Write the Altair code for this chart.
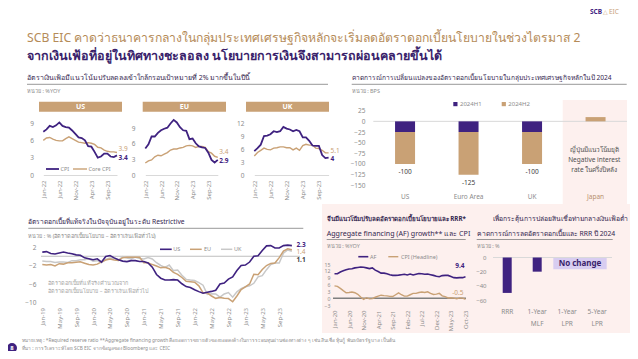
import json
import altair as alt
import pandas as pd

FONT = "Noto Sans"
W, H = 622, 343
M = 8  # page margin


def X(v):
    return v - M


def Y(v):
    return v - M


PURPLE = "#3F2280"
TAN = "#C9A175"
UKGRAY = "#C8C8C8"
GOLD = "#B58B58"
DARK = "#33264F"
GRAY = "#8C8C8C"
LINE = "#7F7F7F"
PINK = "#FDF0EE"
NOCHG = "#D8CDF1"

# ---------------- data ----------------
infl_tick_pos = [0, 5, 10, 15, 20]
infl_tick_labels = ["Jan-22", "Jun-22", "Nov-22", "Apr-23", "Sep-23"]
us_cpi = [7.5, 7.9, 8.5, 8.3, 8.6, 9.1, 8.5, 8.3, 8.2, 7.7, 7.1, 6.5,
          6.4, 6.0, 5.0, 4.9, 4.0, 3.0, 3.2, 3.7, 3.7, 3.2, 3.1, 3.4]
us_core = [6.0, 6.4, 6.5, 6.2, 6.0, 5.9, 5.9, 6.3, 6.6, 6.3, 6.0, 5.7,
           5.6, 5.5, 5.6, 5.5, 5.3, 4.8, 4.7, 4.3, 4.1, 4.0, 4.0, 3.9]
eu_cpi = [5.1, 5.9, 7.4, 7.4, 8.1, 8.6, 8.9, 9.1, 9.9, 10.6, 10.1, 9.2,
          8.6, 8.5, 6.9, 7.0, 6.1, 5.5, 5.3, 5.2, 4.3, 2.9, 2.4, 2.9]
eu_core = [2.3, 2.7, 2.9, 3.5, 3.8, 3.7, 4.0, 4.3, 4.8, 5.0, 5.0, 5.2,
           5.3, 5.6, 5.7, 5.6, 5.3, 5.5, 5.5, 5.3, 4.5, 4.2, 3.6, 3.4]
uk_cpi = [5.5, 6.2, 7.0, 9.0, 9.1, 9.4, 10.1, 9.9, 10.1, 11.1, 10.7, 10.5,
          10.1, 10.4, 10.1, 8.7, 8.7, 7.9, 6.8, 6.7, 6.7, 4.6, 3.9, 4.0]
uk_core = [4.4, 5.2, 5.7, 6.2, 5.9, 5.8, 6.2, 6.3, 6.5, 6.5, 6.3, 6.3,
           5.8, 6.2, 5.7, 6.8, 7.1, 6.9, 6.9, 6.2, 6.1, 5.7, 5.1, 5.1]

bar_countries = ["US", "Euro Area", "UK", "Japan"]
bar_h1 = [-25, -25, -25, 0]
bar_h2 = [-75, -100, -75, 10]
bar_periods = ["2024H1", "2024H2"]

real_tick_pos = list(range(0, 60, 4))
real_tick_labels = ["Jan-19", "May-19", "Sep-19", "Jan-20", "May-20", "Sep-20",
                    "Jan-21", "May-21", "Sep-21", "Jan-22", "May-22", "Sep-22",
                    "Jan-23", "May-23", "Sep-23"]
real_us = [0.9, 1.0, 0.6, 0.5, 0.7, 0.9, 0.7, 0.55, 0.3, 0.2, -0.35, -0.55,
           -0.75, -0.55, -1.25, -0.05, 0.15, -0.35, -0.75, -1.05, -1.15, -0.95, -0.95, -1.15,
           -1.15, -1.45, -2.35, -3.95, -4.75, -5.15, -5.15, -5.05, -5.15, -5.95, -6.55, -6.75,
           -7.25, -7.65, -8.0, -7.8, -7.6, -7.35, -6.0, -5.8, -4.95, -4.45, -3.1, -2.0,
           -1.9, -1.25, 0.0, 0.1, 1.25, 2.25, 2.3, 1.8, 1.8, 2.3, 2.4, 2.3]
real_eu = [-1.8, -1.9, -1.8, -2.1, -1.6, -1.7, -1.4, -1.4, -1.3, -1.2, -1.5, -1.8,
           -1.9, -1.7, -1.2, -0.8, -0.6, -0.8, -0.9, -0.3, -0.2, -0.2, -0.2, -0.2,
           -1.4, -1.4, -1.8, -2.1, -2.5, -2.4, -2.7, -3.5, -3.9, -4.6, -5.4, -5.5,
           -5.6, -6.4, -7.9, -7.9, -8.6, -9.1, -8.9, -9.1, -9.15, -9.85, -8.6, -7.2,
           -6.6, -6.0, -3.9, -4.0, -2.85, -2.0, -1.55, -1.45, -0.3, 1.1, 1.6, 1.4]
real_uk = [-1.05, -1.15, -1.15, -1.35, -1.25, -1.25, -1.35, -0.95, -0.95, -0.75, -0.75, -0.55,
           -1.05, -0.95, -1.4, -0.7, -0.4, -0.5, -0.9, -0.1, -0.4, -0.6, -0.2, -0.5,
           -0.6, -0.3, -0.6, -1.4, -2.0, -2.4, -1.9, -3.1, -3.0, -4.1, -5.0, -5.15,
           -5.25, -5.7, -6.25, -8.25, -8.1, -8.15, -8.85, -8.15, -7.85, -8.85, -7.7, -7.0,
           -6.6, -6.4, -5.85, -4.45, -4.2, -2.9, -1.8, -1.45, -1.45, 0.65, 1.35, 1.1]

af_tick_pos = list(range(0, 46, 5))
af_tick_labels = ["Jan-20", "Jun-20", "Nov-20", "Apr-21", "Sep-21", "Feb-22",
                  "Jul-22", "Dec-22", "May-23", "Oct-23"]
af_growth = [10.7, 10.7, 11.5, 12.0, 12.5, 12.8, 12.9, 13.3, 13.5, 13.7, 13.6, 13.3,
             13.0, 13.3, 12.3, 11.7, 11.0, 11.0, 10.7, 10.3, 10.0, 10.0, 10.1, 10.3,
             10.5, 10.2, 10.6, 10.2, 10.5, 10.8, 10.7, 10.5, 10.6, 10.3, 10.0, 9.6,
             9.4, 9.9, 10.0, 10.0, 9.5, 9.0, 8.9, 9.0, 9.0, 9.4]
cn_cpi = [5.4, 5.2, 4.3, 3.3, 2.4, 2.5, 2.7, 2.4, 1.7, 0.5, -0.5, 0.2,
          -0.3, -0.2, 0.4, 0.9, 1.3, 1.1, 1.0, 0.8, 0.7, 1.5, 2.3, 1.5,
          0.9, 0.9, 1.5, 2.1, 2.1, 2.5, 2.7, 2.5, 2.8, 2.1, 1.6, 1.8,
          2.1, 1.0, 0.7, 0.1, 0.2, 0.0, -0.3, 0.1, 0.0, -0.5]

cn_items = ["RRR", "1-Year MLF", "1-Year LPR", "5-Year LPR"]
cn_cut = [-50, -20, 0, 0]

# ---------------- helpers ----------------


def fmt(v):
    return f"{v:g}"


def lab_expr(pos, labels):
    return f"{json.dumps(labels)}[indexof({json.dumps(pos)}, datum.value)]"


def y_axis(at_x, values, size=6.5, pad=2):
    return alt.Axis(orient="left", offset=-X(at_x), values=values, domain=False,
                    ticks=False, tickSize=0, grid=False, title=None, labelFont=FONT,
                    labelFontSize=size, labelColor=GRAY, labelPadding=pad, zindex=1,
                    labelOverlap=False)


def x_axis_idx(at_y, pos, labels, size=6, pad=4, domain_color=None):
    kw = dict(orient="bottom", offset=Y(at_y) - H, values=pos,
              labelExpr=lab_expr(pos, labels), labelAngle=-90, ticks=False, tickSize=0,
              grid=False, title=None, labelFont=FONT, labelFontSize=size,
              labelColor=GRAY, labelPadding=pad, labelOverlap=False, zindex=1)
    if domain_color:
        kw.update(domain=True, domainColor=domain_color, domainWidth=1)
    else:
        kw.update(domain=False)
    return alt.Axis(**kw)


one = pd.DataFrame({"a": [0]})


def txt(s, x, y, size=7.0, color=DARK, weight="normal", align="left", baseline="middle"):
    return alt.Chart(pd.DataFrame({"t": [s]})).mark_text(
        align=align, baseline=baseline, fontSize=size, color=color,
        fontWeight=weight, font=FONT).encode(
        x=alt.value(X(x)), y=alt.value(Y(y)), text="t:N")


def hline(x1, x2, y, color=LINE, width=0.8):
    return alt.Chart(one).mark_rule(color=color, strokeWidth=width).encode(
        x=alt.value(X(x1)), x2=alt.value(X(x2)), y=alt.value(Y(y)))


def box(x1, y1, x2, y2, color):
    return alt.Chart(one).mark_rect(color=color).encode(
        x=alt.value(X(x1)), x2=alt.value(X(x2)), y=alt.value(Y(y1)), y2=alt.value(Y(y2)))


def series_line(df, xs, ys, xa, ya, color, width):
    return alt.Chart(df).mark_line(color=color, strokeWidth=width).encode(
        x=alt.X("i:Q", scale=xs, axis=xa), y=alt.Y("v:Q", scale=ys, axis=ya))


def end_label(vals, xs, ys, xa, ya, color, dx, dy, weight="normal", align="left", size=6.5):
    n = len(vals)
    d = pd.DataFrame({"i": [n - 1], "v": [vals[-1]], "t": [fmt(vals[-1])]})
    return alt.Chart(d).mark_text(color=color, dx=dx, dy=dy, align=align, fontSize=size,
                                  fontWeight=weight, font=FONT).encode(
        x=alt.X("i:Q", scale=xs, axis=xa), y=alt.Y("v:Q", scale=ys, axis=ya), text="t:N")


def sdf(vals):
    return pd.DataFrame({"i": list(range(len(vals))), "v": vals})


# ---------------- inflation mini panels ----------------
def infl_panel(cpi, core, x0, x1, ydom, y_top, yticks, yax_x, cpi_dy, core_dy, dx):
    n = len(cpi)
    xs = alt.Scale(domain=[0, n - 1], range=[X(x0), X(x1)], nice=False, zero=False)
    ys = alt.Scale(domain=ydom, range=[Y(175), Y(y_top)], nice=False, zero=False)
    xa = x_axis_idx(175, infl_tick_pos, infl_tick_labels, pad=5, domain_color="#D9D9D9")
    ya = y_axis(yax_x, yticks)
    return alt.layer(
        series_line(sdf(core), xs, ys, xa, ya, TAN, 1.4),
        series_line(sdf(cpi), xs, ys, xa, ya, PURPLE, 1.8),
        end_label(core, xs, ys, xa, ya, TAN, dx, core_dy),
        end_label(cpi, xs, ys, xa, ya, PURPLE, dx, cpi_dy, weight="bold"),
    )


us_panel = infl_panel(us_cpi, us_core, 43.3, 117.0, [0, 9], 123, [0, 3, 6, 9], 35.5, 3, -3, 1.5)
eu_panel = infl_panel(eu_cpi, eu_core, 145.3, 217.8, [0, 12], 112.6, [0, 3, 6, 9], 137, 1, -5, 1.5)
uk_panel = infl_panel(uk_cpi, uk_core, 254.3, 328.6, [0, 12], 123, [0, 3, 6, 9, 12], 246, 1, -2, 2)

# ---------------- policy rate change bars ----------------
bar_df = pd.DataFrame({
    "c": bar_countries * 2,
    "p": [bar_periods[0]] * 4 + [bar_periods[1]] * 4,
    "v": bar_h1 + bar_h2,
})
tot = pd.DataFrame({"c": bar_countries,
                    "v": [a + b for a, b in zip(bar_h1, bar_h2)]})
tot = tot[tot["v"] < 0].copy()
tot["t"] = tot["v"].map(fmt)
bxs = alt.Scale(domain=bar_countries, range=[X(373.3), X(627.3)], paddingInner=0.685,
                paddingOuter=0.3425)
bys = alt.Scale(domain=[-150, 25], range=[Y(185.3), Y(110.7)], nice=False, zero=False)
bxa = alt.Axis(orient="bottom", offset=Y(185.3) - H, labelAngle=0, domain=False, ticks=False,
               tickSize=0, grid=False, title=None, labelFont=FONT, labelFontSize=6.5,
               labelPadding=8, zindex=1,
               labelColor={"condition": {"test": "datum.value === 'Japan'", "value": "#B8906E"},
                           "value": GRAY})
bya = y_axis(367, list(range(-150, 26, 25)))
bar_zero = alt.Chart(pd.DataFrame({"v": [0]})).mark_rule(color="#D9D9D9", strokeWidth=1).encode(
    y=alt.Y("v:Q", scale=bys, axis=bya), x=alt.value(X(373.3)), x2=alt.value(X(627)))
bars = alt.Chart(bar_df).mark_bar().encode(
    x=alt.X("c:N", scale=bxs, axis=bxa, sort=bar_countries),
    y=alt.Y("v:Q", scale=bys, axis=bya, stack="zero"),
    color=alt.Color("p:N", scale=alt.Scale(domain=bar_periods, range=[PURPLE, TAN]), legend=None),
    order=alt.Order("p:N", sort="ascending"),
)
bar_labels = alt.Chart(tot).mark_text(dy=8, fontSize=6.5, color="#404040", font=FONT).encode(
    x=alt.X("c:N", scale=bxs, axis=bxa, sort=bar_countries),
    y=alt.Y("v:Q", scale=bys, axis=bya), text="t:N")
bar_panel = alt.layer(bar_zero, bars, bar_labels)

# ---------------- real policy rate ----------------
rxs = alt.Scale(domain=[0, len(real_us) - 1], range=[X(42.3), X(291.9)], nice=False, zero=False)
rys = alt.Scale(domain=[-10, 2], range=[Y(302.5), Y(247)], nice=False, zero=False)
rxa = x_axis_idx(302.5, real_tick_pos, real_tick_labels, pad=5)
rya = y_axis(38, [2, -2, -6, -10])
real_zero = alt.Chart(pd.DataFrame({"v": [0]})).mark_rule(color="#BFBFBF", strokeWidth=1).encode(
    y=alt.Y("v:Q", scale=rys, axis=rya), x=alt.value(X(41)), x2=alt.value(X(300)))
real_panel = alt.layer(
    real_zero,
    series_line(sdf(real_uk), rxs, rys, rxa, rya, UKGRAY, 1.5),
    series_line(sdf(real_eu), rxs, rys, rxa, rya, TAN, 1.5),
    series_line(sdf(real_us), rxs, rys, rxa, rya, PURPLE, 1.6),
    end_label(real_us, rxs, rys, rxa, rya, PURPLE, 4.5, -1, weight="bold"),
    end_label(real_eu, rxs, rys, rxa, rya, TAN, 4.5, 2.5),
    end_label(real_uk, rxs, rys, rxa, rya, "#404040", 4.5, 9, weight="bold"),
)

# ---------------- China AF & CPI ----------------
axs = alt.Scale(domain=[0, len(af_growth) - 1], range=[X(334.5), X(465.5)], nice=False, zero=False)
ays = alt.Scale(domain=[-3, 15], range=[Y(305), Y(264)], nice=False, zero=False)
axa = x_axis_idx(305, af_tick_pos, af_tick_labels, pad=5)
aya = y_axis(332, [15, 12, 9, 6, 3, 0, -3], size=5.2)
af_zero = alt.Chart(pd.DataFrame({"v": [0]})).mark_rule(color="#7F7F7F", strokeWidth=1.5).encode(
    y=alt.Y("v:Q", scale=ays, axis=aya), x=alt.value(X(333)), x2=alt.value(X(466)))
af_panel = alt.layer(
    af_zero,
    series_line(sdf(cn_cpi), axs, ays, axa, aya, TAN, 1.4),
    series_line(sdf(af_growth), axs, ays, axa, aya, PURPLE, 1.6),
    end_label(af_growth, axs, ays, axa, aya, PURPLE, -1, -11, align="right", weight="bold"),
    end_label(cn_cpi, axs, ays, axa, aya, TAN, -2, -6, align="right"),
)

# ---------------- China rate cuts ----------------
cdf = pd.DataFrame({"c": cn_items, "v": cn_cut})
cxs = alt.Scale(domain=cn_items, range=[X(492.2), X(612.2)], paddingInner=0.7, paddingOuter=0.35)
cys = alt.Scale(domain=[-60, 0], range=[Y(300), Y(257.5)], nice=False, zero=False)
cxa = alt.Axis(orient="bottom", offset=Y(300) - H, labelAngle=0, domain=False, ticks=False,
               tickSize=0, grid=False, title=None, labelFont=FONT, labelFontSize=6.5,
               labelColor=GRAY, labelPadding=8, labelLineHeight=12.5, zindex=1,
               labelExpr="split(datum.label, ' ')")
cya = y_axis(488, [0, -20, -40, -60], size=6)
c_zero = alt.Chart(pd.DataFrame({"v": [0]})).mark_rule(color="#D9D9D9", strokeWidth=1).encode(
    y=alt.Y("v:Q", scale=cys, axis=cya), x=alt.value(X(493)), x2=alt.value(X(612)))
c_bars = alt.Chart(cdf).mark_bar(color=PURPLE).encode(
    x=alt.X("c:N", scale=cxs, axis=cxa, sort=cn_items),
    y=alt.Y("v:Q", scale=cys, axis=cya))
cut_panel = alt.layer(c_zero, c_bars)

# ---------------- decorations ----------------
deco = [
    box(562.7, 100, 627, 204, PINK),
    box(322, 204, 631, 333, PINK),
    # header
    txt("SCB", 602, 12, 6.5, PURPLE, "bold", align="right"),
    txt("\u25b3", 605.5, 12, 5.5, TAN, align="center"),
    txt("EIC", 609, 12, 6.5, TAN, align="left"),
    txt("SCB EIC คาดว่าธนาคารกลางในกลุ่มประเทศเศรษฐกิจหลักจะเริ่มลดอัตราดอกเบี้ยนโยบายในช่วงไตรมาส 2",
        27, 38, 12.2, GOLD, "normal"),
    txt("จากเงินเฟ้อที่อยู่ในทิศทางชะลอลง นโยบายการเงินจึงสามารถผ่อนคลายขึ้นได้",
        27, 55.5, 12.5, "#3A1F6B", "bold"),
    # section 1 left
    txt("อัตราเงินเฟ้อมีแนวโน้มปรับลดลงเข้าใกล้กรอบเป้าหมายที่ 2% มากขึ้นในปีนี้", 27, 77.7, 7.0, DARK),
    hline(27, 328, 84.3),
    txt("หน่วย : %YOY", 27, 90.7, 5.5, GRAY),
    box(39, 101.7, 122, 111.7, TAN), txt("US", 80.5, 106.7, 7, "white", "bold", align="center"),
    box(142.7, 101.7, 226, 111.7, TAN), txt("EU", 184.4, 106.7, 7, "white", "bold", align="center"),
    box(246, 101.7, 329, 111.7, TAN), txt("UK", 287.5, 106.7, 7, "white", "bold", align="center"),
    hline(46, 59, 169, PURPLE, 1.8), txt("CPI", 60.5, 169, 5.5, GRAY),
    hline(73, 87, 169, TAN, 1.4), txt("Core CPI", 88.5, 169, 5.5, GRAY),
    # section 1 right
    txt("คาดการณ์การเปลี่ยนแปลงของอัตราดอกเบี้ยนโยบายในกลุ่มประเทศเศรษฐกิจหลักในปี 2024",
        351.7, 77.7, 6.6, DARK),
    hline(351.7, 626.7, 84.3),
    txt("หน่วย : BPS", 351.7, 90.7, 5.5, GRAY),
    box(453.3, 102, 457.5, 106.2, PURPLE), txt("2024H1", 460, 104, 6, GRAY),
    box(501.7, 102, 505.9, 106.2, TAN), txt("2024H2", 508.3, 104, 6, GRAY),
    txt("ญี่ปุ่นมีแนวโน้มยุติ", 594.3, 150, 6.5, "#505050", align="center"),
    txt("Negative interest", 594.3, 160, 6.5, "#505050", align="center"),
    txt("rate ในครึ่งปีหลัง", 594.3, 169.5, 6.5, "#505050", align="center"),
    # section 2 left
    txt("อัตราดอกเบี้ยที่แท้จริงในปัจจุบันอยู่ในระดับ Restrictive", 28.3, 221.7, 6.7, DARK),
    hline(28.3, 303.3, 228.3),
    txt("หน่วย : % (อัตราดอกเบี้ยนโยบาย – อัตราเงินเฟ้อทั่วไป)", 28.3, 235.7, 5.5, GRAY),
    hline(160, 171.7, 249.3, PURPLE, 1.6), txt("US", 173.3, 249.3, 5.5, GRAY),
    hline(190, 201.7, 249.3, TAN, 1.5), txt("EU", 204, 249.3, 5.5, GRAY),
    hline(221, 232.3, 249.3, UKGRAY, 1.5), txt("UK", 234, 249.3, 5.5, GRAY),
    txt("อัตราดอกเบี้ยที่แท้จริงคำนวณจาก", 48.3, 283.3, 5.5, "#A6A6A6"),
    txt("อัตราดอกเบี้ยนโยบาย – อัตราเงินเฟ้อทั่วไป", 48.3, 290.7, 5.5, "#A6A6A6"),
    # China section
    txt("จีนมีแนวโน้มปรับลดอัตราดอกเบี้ยนโยบายและ RRR*", 326.7, 219, 6.2, DARK, "bold"),
    txt("เพื่อกระตุ้นการปล่อยสินเชื่อท่ามกลางเงินเฟ้อต่ำ", 628, 219, 6.8, DARK, align="right"),
    txt("Aggregate financing (AF) growth** และ CPI", 326.7, 234, 7.1, DARK),
    hline(326.7, 465.7, 239.5),
    txt("หน่วย : %YOY", 326.7, 245.7, 5.5, GRAY),
    hline(358.3, 368.3, 256.7, PURPLE, 1.6), txt("AF", 370, 256.7, 5.5, GRAY),
    hline(388.3, 398.3, 256.7, TAN, 1.4), txt("CPI (Headline)", 401, 256.7, 5.5, GRAY),
    txt("คาดการณ์การลดอัตราดอกเบี้ยและ RRR ปี 2024", 476.7, 234, 6.8, DARK),
    hline(476.7, 612.7, 239.5),
    txt("หน่วย : %", 476.7, 245.7, 5.5, GRAY),
    box(553.3, 257.7, 606.7, 269.3, NOCHG),
    txt("No change", 580, 263.5, 8, "#3A1F6B", "bold", align="center"),
    # footer
    alt.Chart(one).mark_circle(color=PURPLE, opacity=1, size=100).encode(
        x=alt.value(X(12)), y=alt.value(Y(348))),
    txt("8", 12, 348, 6, "white", "bold", align="center"),
    txt("หมายเหตุ : *Required reserve ratio **Aggregate financing growth คือยอดการขยายตัวของยอดคงค้างในการระดมทุนผ่านช่องทางต่าง ๆ เช่น สินเชื่อ หุ้นกู้ พันธบัตรรัฐบาล เป็นต้น",
        22, 341, 4.8, GRAY),
    txt("ที่มา : การวิเคราะห์โดย SCB EIC จากข้อมูลของ Bloomberg และ CEIC", 22, 348.5, 4.8, GRAY),
]

chart = alt.layer(
    *deco, us_panel, eu_panel, uk_panel, bar_panel, real_panel, af_panel, cut_panel
).resolve_scale(
    x="independent", y="independent", color="independent"
).properties(
    width=W, height=H, padding=0, autosize=alt.AutoSizeParams(type="none"),
    background="white"
).configure_view(strokeWidth=0)

chart.save("out.html", embed_options={"renderer": "svg", "actions": False})
